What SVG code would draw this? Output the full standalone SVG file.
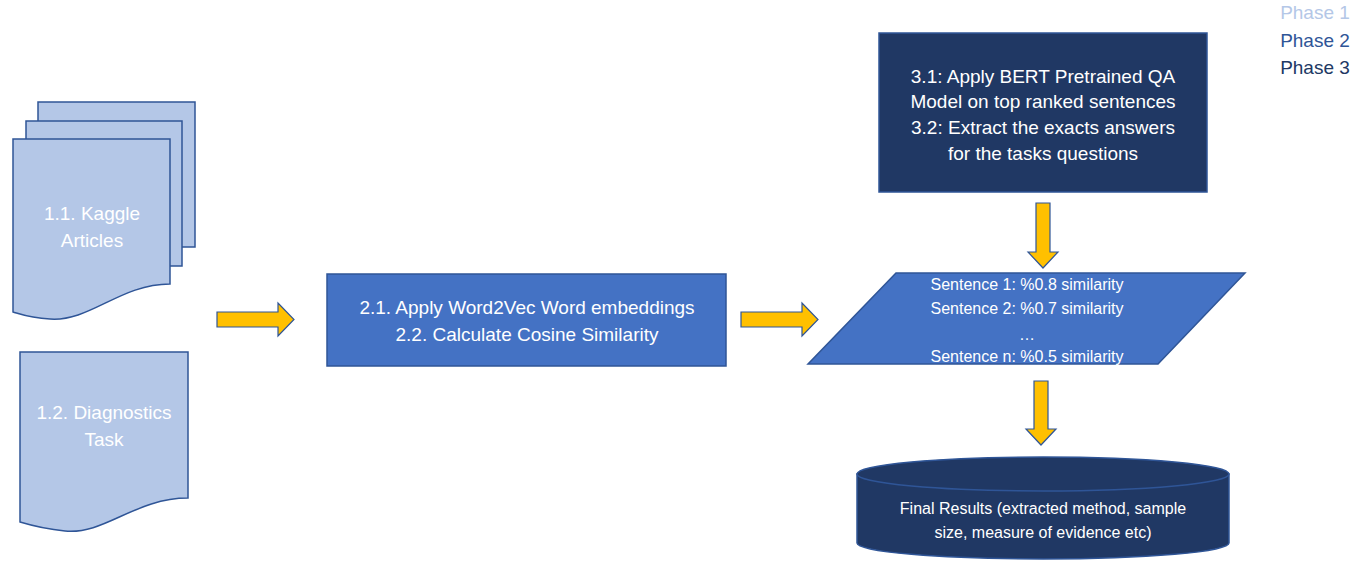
<svg xmlns="http://www.w3.org/2000/svg" width="1358" height="570" viewBox="0 0 1358 570">
<style>
.doc{fill:#B4C7E7;stroke:#2F5597;stroke-width:1.5}
.arr{fill:#FFC000;stroke:#2F5597;stroke-width:1.2}
text{font-family:"Liberation Sans",Arial,sans-serif;fill:#fff;text-anchor:middle}
.t20{font-size:19px}
.t16{font-size:16px}
</style>
<rect width="1358" height="570" fill="#fff"/>
<g id="doc11">
<rect class="doc" x="38" y="102" width="157" height="145"/>
<rect class="doc" x="26" y="121" width="156" height="145"/>
<path class="doc" d="M13 139 H170 V284 C120 284 90 322 50 319 C30 318 20 314 13 312 Z"/>
<text class="t20" x="92" y="220">1.1. Kaggle</text>
<text class="t20" x="92" y="247">Articles</text>
</g>
<g id="doc12">
<path class="doc" d="M20 352 H188 V498 C135 498 105 535 65 531 C45 529 30 525 20 522 Z"/>
<text class="t20" x="104" y="419">1.2. Diagnostics</text>
<text class="t20" x="104" y="446">Task</text>
</g>
<g id="box2">
<rect x="327" y="274" width="399" height="92" fill="#4472C4" stroke="#2F5597" stroke-width="1.5"/>
<text class="t20" x="527" y="314">2.1. Apply Word2Vec Word embeddings</text>
<text class="t20" x="527" y="341">2.2. Calculate Cosine Similarity</text>
</g>
<g id="box3">
<rect x="879" y="33" width="328" height="159" fill="#203864" stroke="#2F5597" stroke-width="1.5"/>
<text class="t20" x="1043" y="83">3.1: Apply BERT Pretrained QA</text>
<text class="t20" x="1043" y="108">Model on top ranked sentences</text>
<text class="t20" x="1043" y="134">3.2: Extract the exacts answers</text>
<text class="t20" x="1043" y="160">for the tasks questions</text>
</g>
<g id="sentences">
<path d="M896 273 H1245 L1158 364 H808 Z" fill="#4472C4" stroke="#2F5597" stroke-width="1.5"/>
<text class="t16" x="1027" y="290">Sentence 1:  %0.8 similarity</text>
<text class="t16" x="1027" y="314">Sentence 2:  %0.7 similarity</text>
<text class="t16" x="1027" y="340">…</text>
<text class="t16" x="1027" y="362">Sentence n:  %0.5 similarity</text>
</g>
<g id="results">
<path d="M857 474 V543 A186 16 0 0 0 1229 543 V474 Z" fill="#203864" stroke="#2F5597" stroke-width="1.5"/>
<ellipse cx="1043" cy="474" rx="186" ry="17" fill="#203864" stroke="#2F5597" stroke-width="1.5"/>
<text class="t16" x="1043" y="514">Final Results (extracted method, sample</text>
<text class="t16" x="1043" y="538">size, measure of evidence  etc)</text>
</g>
<g id="legend" style="font-size:19px">
<text x="1315" y="19" style="fill:#B4C7E7">Phase 1</text>
<text x="1315" y="47" style="fill:#2F5597">Phase 2</text>
<text x="1315" y="74" style="fill:#203864">Phase 3</text>
</g>
<g id="connectors">
<path class="arr" d="M217 312 H278 V303 L294 319.5 L278 336 V327 H217 Z"/>
<path class="arr" d="M741 312 H802 V303 L818 319.5 L802 336 V327 H741 Z"/>
<path class="arr" d="M1036 203 H1050 V252 H1058 L1043 268 L1028 252 H1036 Z"/>
<path class="arr" d="M1034 381 H1048 V429 H1056 L1041 445 L1026 429 H1034 Z"/>
</g>
</svg>
